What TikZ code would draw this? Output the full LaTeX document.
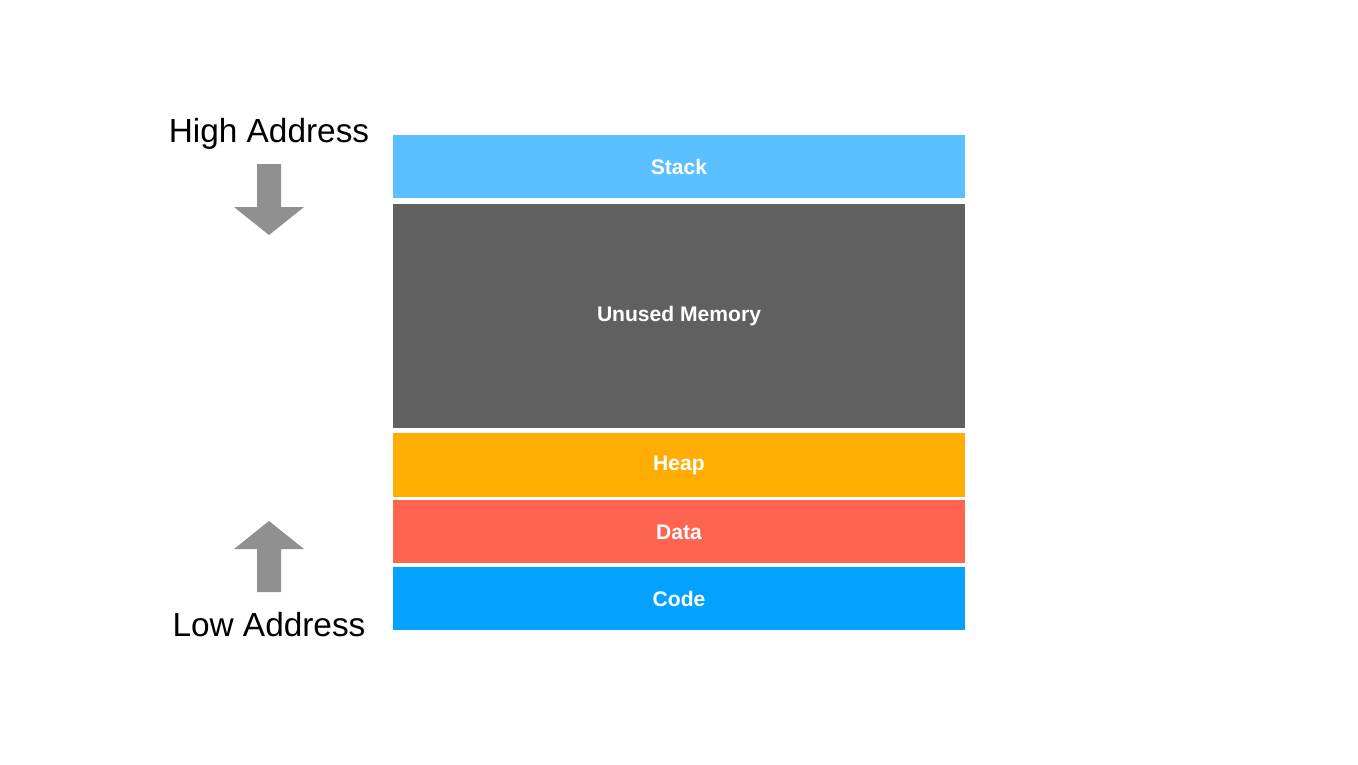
\documentclass[tikz,border=0pt]{standalone}
\usepackage{fontspec}
\setmainfont{Liberation Sans}
\definecolor{stackc}{RGB}{90,192,255}
\definecolor{unusedc}{RGB}{96,96,96}
\definecolor{heapc}{RGB}{255,173,0}
\definecolor{datac}{RGB}{255,100,80}
\definecolor{codec}{RGB}{4,162,255}
\definecolor{arrowc}{RGB}{144,144,144}
\begin{document}
\begin{tikzpicture}[x=0.02cm,y=-0.02cm,
  seg/.style={font=\fontsize{12}{14}\selectfont\bfseries,text=white}]
  \useasboundingbox (0,0) rectangle (1358,764);
  %SEGMENTS
  \fill[stackc] (393,135) rectangle (965,198);
  \node[seg] (stack) at (679,167) {Stack};
  \fill[unusedc] (393,204) rectangle (965,428);
  \node[seg] (unused) at (679,316) {Unused Memory};
  \fill[heapc] (393,433) rectangle (965,497);
  \node[seg] (heap) at (679,465) {Heap};
  \fill[datac] (393,500) rectangle (965,563);
  \node[seg] (data) at (679,532) {Data};
  \fill[codec] (393,567) rectangle (965,630);
  \node[seg] (code) at (679,599) {Code};
  %ADDRESSES
  \node[font=\fontsize{19}{22}\selectfont] (high) at (269,134) {High Address};
  \node[font=\fontsize{19}{22}\selectfont] (low) at (269,625) {Low Address};
  \fill[arrowc] (257,164) -- (281,164) -- (281,207) -- (304,207) -- (269,235)
    -- (234,207) -- (257,207) -- cycle;
  \fill[arrowc] (257,592) -- (281,592) -- (281,549) -- (304,549) -- (269,521)
    -- (234,549) -- (257,549) -- cycle;
\end{tikzpicture}
\end{document}
